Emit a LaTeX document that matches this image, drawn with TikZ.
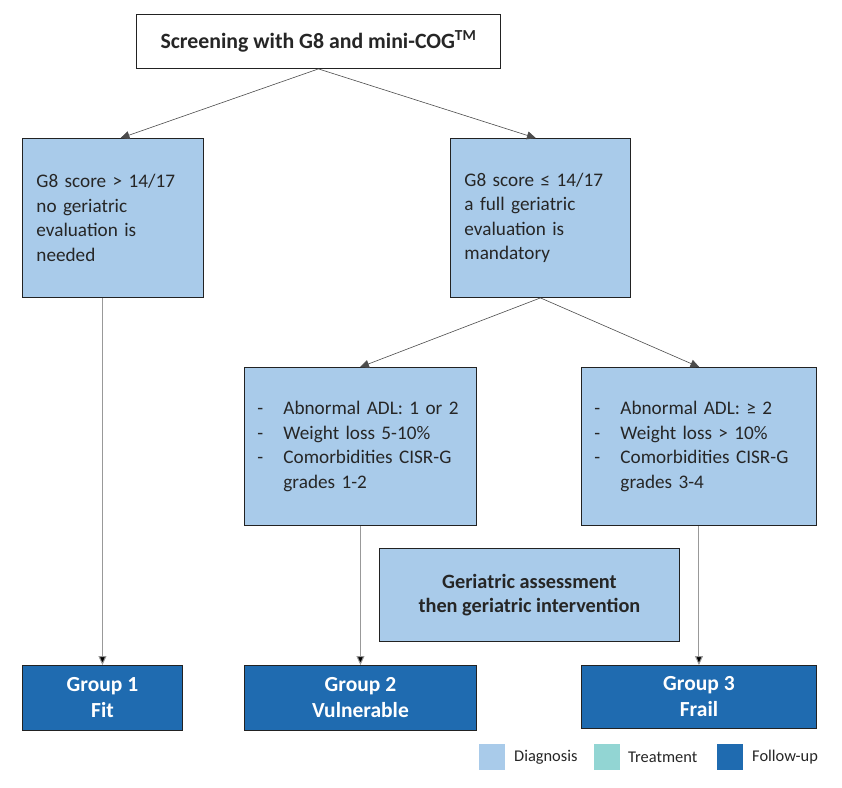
\documentclass[tikz,border=0pt]{standalone}
\usepackage{fontspec}
\setmainfont{Carlito}
\usetikzlibrary{arrows.meta}
\definecolor{diag}{HTML}{A9CBEA}
\definecolor{treat}{HTML}{92D5D3}
\definecolor{follow}{HTML}{1F6BB0}
\definecolor{edge}{HTML}{222222}
\begin{document}
\begin{tikzpicture}[x=1bp,y=-1bp,
  lbox/.style={draw=edge,line width=0.9bp,fill=diag,anchor=north west,inner sep=0pt,
    font=\fontsize{19.2bp}{24.5bp}\selectfont,text=black!85},
  gbox/.style={draw=edge,line width=0.9bp,fill=follow,anchor=north west,inner sep=0pt,align=center,
    font=\fontsize{21.5bp}{26bp}\selectfont\bfseries,text=white},
  diagline/.style={draw=black!70,line width=0.6bp,-{Triangle[length=9bp,width=8bp]},shorten >=-0.5bp},
  vline/.style={draw=black!40,line width=1bp,-{Triangle[length=9bp,width=8bp,fill=black]}},
  legsq/.style={draw=none,minimum width=26bp,minimum height=26bp,inner sep=0pt,anchor=north west},
  legtxt/.style={anchor=west,font=\fontsize{16.4bp}{18bp}\selectfont,text=black!85,inner sep=0pt}
]
\useasboundingbox (0,0) rectangle (842,788);
\fill[white] (0,0) rectangle (842,788);

\node[draw=edge,line width=0.9bp,fill=white,anchor=north west,minimum width=364bp,minimum height=54bp,inner sep=0pt,
  font=\fontsize{21.8bp}{24bp}\selectfont\bfseries,text=black!85] (top) at (136,14) {Screening with G8 and mini-COG\textsuperscript{TM}};

\node[lbox,minimum width=181bp,minimum height=159bp,text width=153bp,align=left] (A) at (22,138)
  {G8 score > 14/17\\no geriatric\\evaluation is\\needed};
\node[lbox,minimum width=180bp,minimum height=159bp,text width=152bp,align=left] (B) at (450,138)
  {G8 score ≤ 14/17\\a full geriatric\\evaluation is\\mandatory};

\node[lbox,minimum width=232bp,minimum height=158bp,text width=206bp,align=left] (C) at (244,367)
  {\makebox[26bp][l]{-}Abnormal ADL: 1 or 2\\\makebox[26bp][l]{-}Weight loss 5-10\%\\\makebox[26bp][l]{-}Comorbidities CISR-G\\\hspace*{26bp}grades 1-2};
\node[lbox,minimum width=235bp,minimum height=158bp,text width=209bp,align=left] (D) at (581,367)
  {\makebox[26bp][l]{-}Abnormal ADL: ≥ 2\\\makebox[26bp][l]{-}Weight loss > 10\%\\\makebox[26bp][l]{-}Comorbidities CISR-G\\\hspace*{26bp}grades 3-4};

\node[lbox,minimum width=300bp,minimum height=93bp,align=center,
  font=\fontsize{20.3bp}{24.5bp}\selectfont\bfseries] (E) at (379,548)
  {Geriatric assessment\\then geriatric intervention};

\node[gbox,minimum width=160bp,minimum height=65bp] (G1) at (22,665) {Group 1\\Fit};
\node[gbox,minimum width=232bp,minimum height=65bp] (G2) at (244,665) {Group 2\\Vulnerable};
\node[gbox,minimum width=235bp,minimum height=63bp] (G3) at (581,665) {Group 3\\Frail};

\draw[diagline] (top.south) -- ([xshift=8bp]A.north);
\draw[diagline] (top.south) -- ([xshift=-5bp]B.north);
\draw[diagline] (B.south) -- (C.north);
\draw[diagline] (B.south) -- (D.north);
\draw[vline] (A.south -| G1.north) -- (G1.north);
\draw[vline] (C.south) -- (G2.north);
\draw[vline] (D.south) -- (G3.north);

\node[legsq,fill=diag] (L1) at (479,744) {};
\node[legtxt] (L1t) at (514,757) {Diagnosis};
\node[legsq,fill=treat] (L2) at (594,744) {};
\node[legtxt] (L2t) at (628,757) {Treatment};
\node[legsq,fill=follow] (L3) at (717,744) {};
\node[legtxt] (L3t) at (752,757) {Follow-up};
\end{tikzpicture}
\end{document}
